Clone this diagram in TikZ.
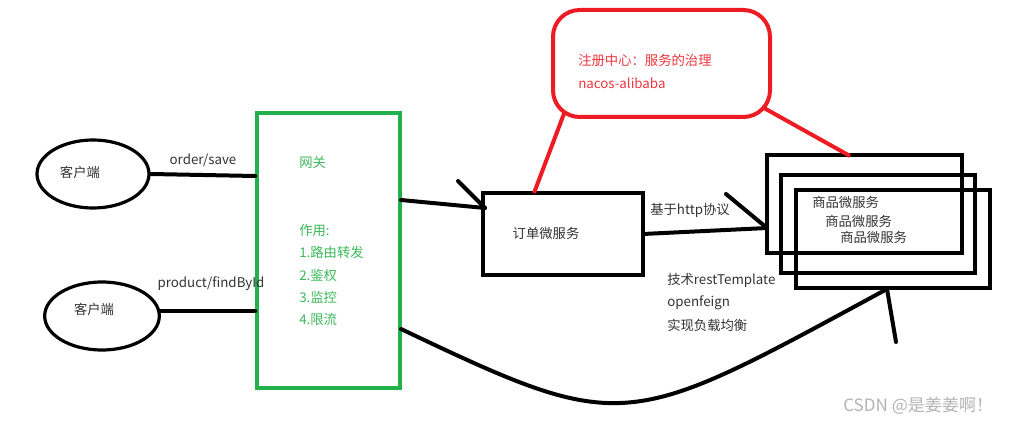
\documentclass[tikz,border=0pt]{standalone}
\usepackage{fontspec}
\setmainfont{Noto Sans CJK SC}
\usetikzlibrary{shapes.geometric,calc}
\definecolor{pgreen}{HTML}{22B14C}
\definecolor{tgreen}{HTML}{3CB95A}
\definecolor{pred}{HTML}{ED1C24}
\definecolor{tred}{HTML}{F0353D}
\definecolor{tgray}{HTML}{333333}
\definecolor{wm}{HTML}{B4B4B4}
\tikzset{
  client/.style={draw=black,line width=2.4pt,ellipse,inner sep=0pt},
  sbox/.style={draw=black,line width=3pt,rectangle,inner sep=0pt},
  conn/.style={draw=black,line width=3pt,line cap=round},
  redconn/.style={draw=pred,line width=3pt},
  txt/.style={text=tgray,font=\fontsize{10}{12}\selectfont,inner sep=0pt},
  gtxt/.style={text=tgreen,font=\fontsize{10}{12}\selectfont,inner sep=0pt,anchor=west},
  rtxt/.style={text=tred,font=\fontsize{10}{12}\selectfont,inner sep=0pt,anchor=west},
}
\begin{document}
\begin{tikzpicture}[x=0.75pt,y=-0.75pt]
\useasboundingbox[fill=white] (0,0) rectangle (1018,424);

% clients
\node[client,minimum width=84pt,minimum height=51pt] (c1) at (93,174) {};
\node[txt] (c1t) at (80,172) {客户端};
\node[client,minimum width=86pt,minimum height=51pt] (c2) at (102,316) {};
\node[txt] (c2t) at (94,309) {客户端};

% gateway
\node[draw=pgreen,line width=2.6pt,rectangle,minimum width=107.25pt,minimum height=206.25pt,inner sep=0pt] (gw) at (328.5,250.5) {};
\node[gtxt] (g0) at (299,162) {网关};
\node[gtxt] (g1) at (299,230) {作用:};
\node[gtxt] (g2) at (299,252) {1.路由转发};
\node[gtxt] (g3) at (299,275) {2.鉴权};
\node[gtxt] (g4) at (299,297) {3.监控};
\node[gtxt] (g5) at (299,319) {4.限流};

% order service
\node[sbox,minimum width=120pt,minimum height=61.5pt] (ord) at (563,234) {};
\node[txt] (ordt) at (546,233) {订单微服务};

% product services
\node[sbox,minimum width=146.25pt,minimum height=73.5pt] (p1) at (864.5,204) {};
\node[sbox,minimum width=145.5pt,minimum height=73.5pt] (p2) at (878,224) {};
\node[sbox,minimum width=145.5pt,minimum height=73.5pt] (p3) at (893,239) {};
\node[txt,anchor=west] (p1t) at (812,202) {商品微服务};
\node[txt,anchor=west] (p2t) at (825,221) {商品微服务};
\node[txt,anchor=west] (p3t) at (840,237) {商品微服务};

% registry bubble
\node[draw=pred,line width=3pt,rectangle,rounded corners=20pt,minimum width=162.75pt,minimum height=80.25pt,inner sep=0pt] (reg) at (661.5,63.5) {};
\node[rtxt] (rt1) at (578,60) {注册中心：服务的治理};
\node[rtxt] (rt2) at (578,83) {nacos-alibaba};

% labels
\node[txt] (l1) at (203,160) {order/save};
\node[txt] (l2) at (211,284) {product/findById};
\node[txt] (l3) at (690,210) {基于http协议};
\node[txt,anchor=west] (l4) at (667,280) {技术restTemplate};
\node[txt,anchor=west] (l5) at (667,303) {openfeign};
\node[txt,anchor=west] (l6) at (667,325) {实现负载均衡};

% watermark
\node[text=wm,font=\fontsize{12.8}{14}\selectfont,inner sep=0pt,anchor=west] (wmk) at (843,406) {CSDN @是姜姜啊！};

% connector end points
\coordinate (c2A) at (159,311);
\coordinate (gwA) at (401,200);
\coordinate (ordA) at (485,208);
\coordinate (tick1) at (458,181);
\coordinate (ordB) at (643,234);
\coordinate (p1A) at (767,228);
\coordinate (tick2) at (726,194);
\coordinate (gwB) at (401,329);
\coordinate (p3A) at (887,289);
\coordinate (tick3) at (896,342);
\coordinate (regA) at (565,111);
\coordinate (ordT) at (534,193);
\coordinate (regB) at (764,108);
\coordinate (p1T) at (850,156);

% connectors
\draw[conn] (c1.east) -- (gw.west |- 0,176);
\draw[conn] (c2A) -- (gw.west |- c2A);
\draw[conn] (gwA) -- (ordA);
\draw[conn] (tick1) -- (ordA);
\draw[conn] (ordB) -- (p1A);
\draw[conn] (tick2) -- (p1A);
\draw[conn] (gwB) .. controls (626,436) and (625,431) .. (p3A);
\draw[conn] (p3A) -- (tick3);
\draw[redconn] (regA) -- (ordT);
\draw[redconn] (regB) -- (p1T);
\end{tikzpicture}
\end{document}
